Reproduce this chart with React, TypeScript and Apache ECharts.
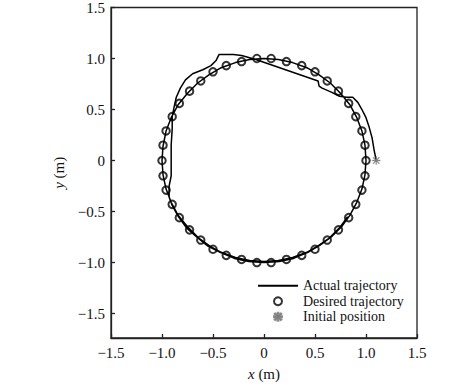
import React, { useEffect, useRef } from "react";
import * as echarts from "echarts";

// Desired trajectory markers (x, y) in metres
const desiredX = [1.0, 0.99, 0.96, 0.9, 0.83, 0.73, 0.62, 0.5, 0.37, 0.22, 0.07, -0.07, -0.22, -0.37, -0.5, -0.62, -0.73, -0.83, -0.9, -0.96, -0.99, -1.0,
  -0.99, -0.96, -0.9, -0.83, -0.73, -0.62, -0.5, -0.37, -0.22, -0.07, 0.07, 0.22, 0.37, 0.5, 0.62, 0.73, 0.83, 0.9, 0.96, 0.99];
const desiredY = [0.0, 0.15, 0.29, 0.43, 0.56, 0.68, 0.78, 0.87, 0.93, 0.97, 1.0, 1.0, 0.97, 0.93, 0.87, 0.78, 0.68, 0.56, 0.43, 0.29, 0.15, 0.0,
  -0.15, -0.29, -0.43, -0.56, -0.68, -0.78, -0.87, -0.93, -0.97, -1.0, -1.0, -0.97, -0.93, -0.87, -0.78, -0.68, -0.56, -0.43, -0.29, -0.15];

// Actual trajectory (x, y) in metres
const actualX = [1.1, 1.08, 1.06, 1.03, 1.0, 0.96, 0.92, 0.87, 0.81, 0.74, 0.66, 0.57, 0.54, 0.53, -0.08, -0.15, -0.22, -0.3, -0.44, -0.47, -0.52, -0.6, -0.7, -0.77, -0.82, -0.86, -0.88, -0.9, -0.9, -0.91, -0.91, -0.91, -0.93, -0.93,
  -0.9, -0.84, -0.76, -0.66, -0.55, -0.43, -0.29, -0.15, 0.0, 0.15, 0.29, 0.43, 0.55, 0.66, 0.76, 0.84, 0.91, 0.96, 0.99, 1.0, 0.99, 0.96, 0.91, 0.84, 0.75, 0.65, 0.54, 0.42, 0.28, 0.14, 0.0, -0.14, -0.28, -0.42, -0.54, -0.65, -0.75, -0.84, -0.91, -0.96, -0.99, -1.0, -0.99, -0.96, -0.91, -0.84,
  -0.75, -0.64, -0.53, -0.42, -0.28, -0.14, 0.0, 0.14, 0.28, 0.42, 0.54, 0.64, 0.74, 0.82];
const actualY = [0.0, 0.1, 0.22, 0.33, 0.42, 0.5, 0.57, 0.62, 0.62, 0.63, 0.67, 0.71, 0.73, 0.78, 0.99, 1.01, 1.03, 1.04, 1.04, 0.98, 0.93, 0.89, 0.85, 0.79, 0.71, 0.62, 0.53, 0.43, 0.31, 0.15, 0.0, -0.15, -0.25, -0.36,
  -0.44, -0.55, -0.66, -0.75, -0.84, -0.9, -0.96, -0.99, -1.0, -0.99, -0.96, -0.9, -0.83, -0.75, -0.65, -0.54, -0.41, -0.28, -0.14, 0.0, 0.15, 0.29, 0.42, 0.55, 0.66, 0.76, 0.84, 0.91, 0.96, 0.99, 1.0, 0.99, 0.96, 0.91, 0.84, 0.76, 0.66, 0.55, 0.42, 0.29, 0.14, 0.0, -0.14, -0.28, -0.41, -0.54,
  -0.65, -0.76, -0.84, -0.9, -0.95, -0.98, -0.99, -0.98, -0.95, -0.9, -0.83, -0.76, -0.66, -0.55];

const initialX = [1.1];
const initialY = [0.0];

const yTicks = [-1.5, -1.0, -0.5, 0, 0.5, 1.0, 1.5];

const seriesNames = ["Actual trajectory", "Desired trajectory", "Initial position"];

const STAR =
  "path://M9,0H11V20H9Z M0,9H20V11H0Z M2.9,1.5L18.5,17.1L17.1,18.5L1.5,2.9Z M17.1,1.5L18.5,2.9L2.9,18.5L1.5,17.1Z";
const LINE_ICON = "path://M0,0H40V1.8H0Z";

const fmt = (v: number) => {
  if (Math.abs(v) < 1e-9) return "0";
  const s = Math.abs(v).toFixed(1);
  return v < 0 ? "\u2212" + s : s;
};

const FONT = "Liberation Serif";

export default function App() {
  const ref = useRef<HTMLDivElement>(null);
  useEffect(() => {
    if (!ref.current) return;
    const chart = echarts.init(ref.current, undefined, { renderer: "svg" });
    const pairs = (xs: number[], ys: number[]) => xs.map((x, i) => [x, ys[i]]);
    const nameStyle = {
      fontFamily: FONT,
      fontSize: 15,
      color: "#111",
      rich: { i: { fontStyle: "italic", fontFamily: FONT, fontSize: 15, color: "#111" } },
    };
    chart.setOption({
      animation: false,
      backgroundColor: "#fff",
      grid: {
        left: 111,
        right: 57,
        top: 4,
        bottom: 54,
        show: true,
        borderColor: "#222",
        borderWidth: 1.3,
      },
      xAxis: {
        type: "value",
        min: -1.5,
        max: 1.5,
        interval: 0.5,
        name: "{i|x} (m)",
        nameLocation: "middle",
        nameGap: 28,
        nameTextStyle: nameStyle,
        axisLine: { onZero: false, lineStyle: { color: "#222", width: 1.3 } },
        axisTick: { inside: true, length: 4, lineStyle: { color: "#222", width: 1.3 } },
        axisLabel: { formatter: fmt, fontFamily: FONT, fontSize: 15, color: "#111", margin: 7, showMinLabel: true, showMaxLabel: true },
        splitLine: { show: false },
      },
      yAxis: {
        type: "value",
        min: -1.74,
        max: 1.5,
        name: "{i|y} (m)",
        nameLocation: "middle",
        nameGap: 40,
        nameRotate: 90,
        nameTextStyle: nameStyle,
        axisLine: { onZero: false, lineStyle: { color: "#222", width: 1.3 } },
        axisTick: { inside: true, length: 4, customValues: yTicks, lineStyle: { color: "#222", width: 1.3 } },
        axisLabel: { customValues: yTicks, formatter: fmt, fontFamily: FONT, fontSize: 15, color: "#111", margin: 6 },
        splitLine: { show: false },
      },
      legend: {
        orient: "vertical",
        left: 258,
        top: 278,
        itemWidth: 40,
        itemHeight: 8,
        itemGap: 0,
        data: [
          { name: seriesNames[0], icon: LINE_ICON },
          { name: seriesNames[1], icon: "circle" },
          { name: seriesNames[2], icon: STAR },
        ],
        textStyle: { fontFamily: FONT, fontSize: 14, color: "#111", lineHeight: 15.5, padding: [0, 0, 0, 0] },
        padding: 0,
      },
      series: [
        {
          name: seriesNames[1],
          type: "scatter",
          data: pairs(desiredX, desiredY),
          symbol: "circle",
          symbolSize: 7.5,
          itemStyle: { color: "rgba(255,255,255,0)", borderColor: "#000", borderWidth: 2 },
          z: 3,
        },
        {
          name: seriesNames[0],
          type: "line",
          data: pairs(actualX, actualY),
          showSymbol: false,
          symbol: "none",
          lineStyle: { color: "#000", width: 1.5 },
          itemStyle: { color: "#000" },
          z: 2,
        },
        {
          name: seriesNames[2],
          type: "scatter",
          data: pairs(initialX, initialY),
          symbol: STAR,
          symbolSize: 8,
          itemStyle: { color: "#777", borderColor: "#777", borderWidth: 0.4 },
          z: 4,
        },
      ],
    });
    return () => chart.dispose();
  }, []);
  return (
    <div
      ref={ref}
      style={{ position: "fixed", left: 0, top: 0, width: 474, height: 392, background: "#fff" }}
    />
  );
}
